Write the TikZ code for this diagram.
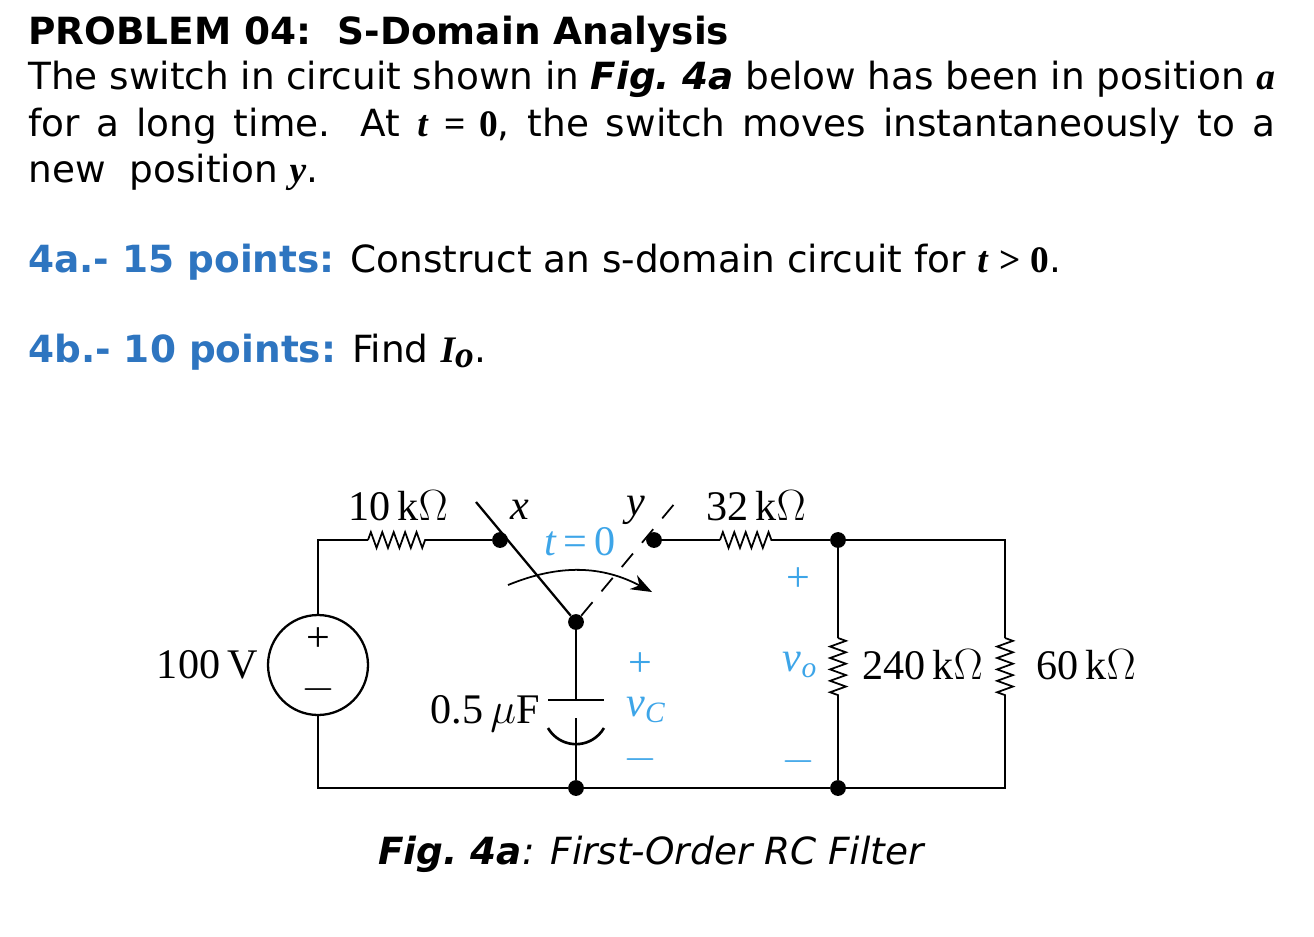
\documentclass[tikz,border=0pt]{standalone}
\usepackage{fontspec}
\setmainfont{DejaVu Sans}
\newfontfamily\tms{Liberation Serif}
\usetikzlibrary{arrows.meta,decorations.pathmorphing}
\definecolor{hd}{HTML}{2E75C0}
\definecolor{lb}{HTML}{3DA5E8}
\newcommand{\vv}[1]{{\tms\bfseries\itshape #1}}
\begin{document}
\begin{tikzpicture}[x=0.02cm,y=-0.02cm,
  txt/.style={anchor=base west,inner sep=0,font=\fontsize{21.3}{24}\selectfont},
  lab/.style={inner sep=0,font=\tms\fontsize{24}{26}\selectfont},
  blab/.style={lab,text=lb},
  dotn/.style={circle,fill=black,inner sep=0,minimum size=9pt},
  wire/.style={line width=1pt},
  res/.style={wire,decorate,decoration={zigzag,segment length=6.5pt,amplitude=4.5pt}}]
\useasboundingbox (0,0) rectangle (1314,936);
\node[txt] (t1) at (28,45) {\bfseries PROBLEM 04:\ \ S-Domain Analysis};
\node[txt] (t2) at (28,90) {\makebox[24.94cm][s]{The switch in circuit shown in \textbf{\textit{Fig.~4a}} below has been in position \vv{a}}};
\node[txt] (t3) at (28,136) {\makebox[24.94cm][s]{for a long time. At \vv{t}~{\tms\bfseries =~0}, the switch moves instantaneously to a}};
\node[txt] (t4) at (28,182) {new\ \ position \vv{y}.};
\node[txt] (t5) at (28,272) {\textcolor{hd}{\bfseries 4a.- 15 points:} Construct an s-domain circuit for \vv{t} {\tms\bfseries > 0}.};
\node[txt] (t6) at (28,362) {\textcolor{hd}{\bfseries 4b.- 10 points:} Find \vv{I}$_{\mbox{\vv{o}}}$.};
\node[txt] (cap) at (378,864) {\textbf{\textit{Fig.~4a}}\textit{: First-Order RC Filter}};
% nodes
\node[dotn] (dx) at (500,540) {};
\node[dotn] (dy) at (654,540) {};
\node[dotn] (dp) at (576,622) {};
\node[dotn] (dt) at (838,540) {};
\node[dotn] (db) at (576,788) {};
\node[dotn] (dbr) at (838,788) {};
\node[circle,draw,line width=1.3pt,minimum size=2cm,inner sep=0] (src) at (318,665) {};
\coordinate (tl) at (318,540); \coordinate (bl) at (318,788);
\coordinate (tr) at (1005,540); \coordinate (br) at (1005,788);
\coordinate (r1a) at (368,540); \coordinate (r1b) at (428,540);
\coordinate (r2a) at (720,540); \coordinate (r2b) at (776,540);
\coordinate (r3a) at (838,638); \coordinate (r3b) at (838,696);
\coordinate (r4a) at (1005,638); \coordinate (r4b) at (1005,696);
\coordinate (cp1) at (576,700); \coordinate (cp2) at (576,718);
\draw[wire] (src.north) -- (tl) -- (r1a);
\draw[res] (r1a) -- (r1b);
\draw[wire] (r1b) -- (dx);
\draw[wire] (dy) -- (r2a); \draw[res] (r2a) -- (r2b);
\draw[wire] (r2b) -- (dt) -- (tr) -- (r4a); \draw[res] (r4a) -- (r4b);
\draw[wire] (r4b) -- (br) -- (dbr) -- (db) -- (bl) -- (src.south);
\draw[wire] (dt) -- (r3a); \draw[res] (r3a) -- (r3b); \draw[wire] (r3b) -- (dbr);
\draw[wire] (dp) -- (cp1); \draw[wire] (cp2) -- (db);
\draw[line width=1.5pt] (548,700) -- (604,700);
\draw[line width=1.5pt] (548,728) arc[start angle=150,end angle=30,radius=32.3];
\draw[line width=1.3pt] (dp) -- (476,502);
\draw[wire,dash pattern=on 10pt off 8pt] (dp) -- (680,497);
\draw[wire,-{Stealth[length=12pt]}] (508,585) to[bend left=25] (652,592);
\node[lab] at (318,640) {+};
\node[lab] at (318,690) {$-$};
% labels
\node[lab,anchor=east] at (258,665) {100\,V};
\node[lab] at (398,506) {10\,k$\Omega$};
\node[lab] at (756,506) {32\,k$\Omega$};
\node[lab,anchor=west] at (862,665) {240\,k$\Omega$};
\node[lab,anchor=west] at (1036,665) {60\,k$\Omega$};
\node[lab,anchor=east] at (540,714) {0.5\,$\mu$F};
\node[lab] at (520,510) {\itshape x};
\node[lab] at (636,510) {\itshape y};
\node[blab] at (580,542) {\itshape t\,\upshape=\,0};
\node[blab] at (640,665) {+};
\node[blab] at (646,710) {\itshape v\textsubscript{C}};
\node[blab] at (640,760) {$-$};
\node[blab] at (798,580) {+};
\node[blab] at (800,665) {\itshape v\textsubscript{o}};
\node[blab] at (798,762) {$-$};
\end{tikzpicture}
\end{document}
